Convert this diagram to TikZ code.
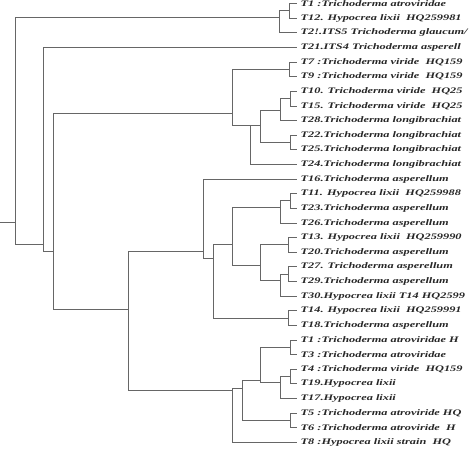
\documentclass[tikz,border=0pt]{standalone}
\usepackage{fontspec}
\setmainfont{Liberation Serif}
\newcommand\leaftext[1]{\scalebox{1.45}[1]{#1}}
\tikzset{
  branch/.style={draw=black!60, line width=0.8pt},
  leaflab/.style={anchor=west, inner ysep=0pt, inner xsep=3.5pt,
    font=\fontsize{8.5}{10}\selectfont\bfseries\itshape, text=black!85},
}
\begin{document}
\begin{tikzpicture}[x=1pt,y=-1pt]
\useasboundingbox (0,0) rectangle (474,467);
% leaf labels
\foreach \i/\t in {
 0/{T1 :Trichoderma atroviridae},
 1/{T12. Hypocrea lixii\ \ HQ259981},
 2/{T2!.ITS5 Trichoderma glaucum/},
 3/{T21.ITS4 Trichoderma asperell},
 4/{T7 :Trichoderma viride\ \ HQ159},
 5/{T9 :Trichoderma viride\ \ HQ159},
 6/{T10. Trichoderma viride\ \ HQ25},
 7/{T15. Trichoderma viride\ \ HQ25},
 8/{T28.Trichoderma longibrachiat},
 9/{T22.Trichoderma longibrachiat},
 10/{T25.Trichoderma longibrachiat},
 11/{T24.Trichoderma longibrachiat},
 12/{T16.Trichoderma asperellum},
 13/{T11. Hypocrea lixii\ \ HQ259988},
 14/{T23.Trichoderma asperellum},
 15/{T26.Trichoderma asperellum},
 16/{T13. Hypocrea lixii\ \ HQ259990},
 17/{T20.Trichoderma asperellum},
 18/{T27. Trichoderma asperellum},
 19/{T29.Trichoderma asperellum},
 20/{T30.Hypocrea lixii T14 HQ2599},
 21/{T14. Hypocrea lixii\ \ HQ259991},
 22/{T18.Trichoderma asperellum},
 23/{T1 :Trichoderma atroviridae H},
 24/{T3 :Trichoderma atroviridae},
 25/{T4 :Trichoderma viride\ \ HQ159},
 26/{T19.Hypocrea lixii},
 27/{T17.Hypocrea lixii},
 28/{T5 :Trichoderma atroviride HQ},
 29/{T6 :Trichoderma atroviride\ \ H},
 30/{T8 :Hypocrea lixii strain\ \ HQ}}
 {\node[leaflab] (t\i) at (297,{3.5+14.63*\i}) {\leaftext{\t}};}
% internal nodes
\coordinate (r0) at (0,222);
\coordinate (R) at (15,222);
\coordinate (A) at (279,17);
\coordinate (n12) at (289,10);
\coordinate (S) at (43,244);
\coordinate (T) at (53,251);
\coordinate (B) at (232,113);
\coordinate (n79) at (289,69);
\coordinate (C) at (250,125);
\coordinate (N1) at (260,125);
\coordinate (N2) at (280,110);
\coordinate (n1015) at (290,98);
\coordinate (n2225) at (290,142);
\coordinate (D) at (128,309);
\coordinate (E) at (203,251);
\coordinate (G) at (213,258);
\coordinate (H) at (232,244);
\coordinate (I) at (280,207);
\coordinate (n1123) at (290,200);
\coordinate (J) at (260,265);
\coordinate (n1320) at (288,244);
\coordinate (K) at (280,280);
\coordinate (n2729) at (288,274);
\coordinate (n1418) at (288,318);
\coordinate (F) at (232,390);
\coordinate (L) at (242,388);
\coordinate (M) at (260,380);
\coordinate (n13) at (290,347);
\coordinate (N) at (280,382);
\coordinate (n419) at (290,376);
\coordinate (n56) at (290,420);
% branches
\draw[branch] (r0) -- (R);
\foreach \p/\c in {R/A, R/S, A/n12, S/T, T/B, T/D, B/n79, B/C, C/N1,
  N1/N2, N1/n2225, N2/n1015, D/E, D/F, E/G, G/H, G/n1418, H/I, H/J,
  I/n1123, J/n1320, J/K, K/n2729, F/L, L/M, L/n56, M/n13, M/N, N/n419}
  {\draw[branch] (\p) |- (\c);}
\foreach \p/\c in {n12/t0, n12/t1, A/t2, S/t3, n79/t4, n79/t5,
  n1015/t6, n1015/t7, N2/t8, n2225/t9, n2225/t10, C/t11, E/t12,
  n1123/t13, n1123/t14, I/t15, n1320/t16, n1320/t17, n2729/t18,
  n2729/t19, K/t20, n1418/t21, n1418/t22, n13/t23, n13/t24,
  n419/t25, n419/t26, N/t27, n56/t28, n56/t29, F/t30}
  {\draw[branch] (\p) |- (\c.west);}
\end{tikzpicture}
\end{document}
